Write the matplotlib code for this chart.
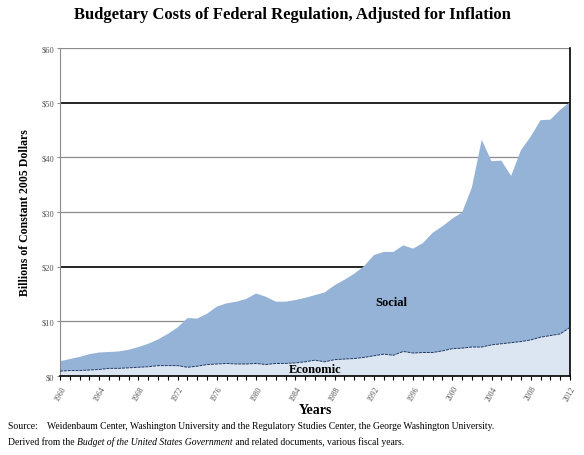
import numpy as np
import matplotlib.pyplot as plt
from matplotlib.ticker import MultipleLocator

plt.rcParams['font.family'] = ['Liberation Serif', 'DejaVu Serif']

years = list(range(1960, 2013))
economic = [0.9, 1.0, 1.0, 1.1, 1.2, 1.4, 1.4, 1.5, 1.6, 1.7,
            1.9, 1.9, 1.9, 1.6, 1.8, 2.1, 2.2, 2.3, 2.2, 2.2,
            2.3, 2.1, 2.3, 2.3, 2.4, 2.6, 2.9, 2.6, 3.0, 3.1,
            3.2, 3.4, 3.7, 4.0, 3.8, 4.5, 4.2, 4.3, 4.3, 4.6,
            5.0, 5.1, 5.3, 5.3, 5.7, 5.9, 6.1, 6.3, 6.6, 7.1,
            7.4, 7.7, 8.9]
total = [2.7, 3.1, 3.5, 4.0, 4.3, 4.4, 4.5, 4.8, 5.3, 5.9,
         6.7, 7.7, 8.9, 10.6, 10.5, 11.4, 12.7, 13.3, 13.6, 14.1,
         15.1, 14.5, 13.6, 13.6, 13.9, 14.3, 14.8, 15.3, 16.6, 17.6,
         18.7, 20.1, 22.1, 22.7, 22.7, 23.9, 23.3, 24.3, 26.2, 27.4,
         28.8, 29.9, 34.5, 43.2, 39.3, 39.4, 36.6, 41.3, 43.8, 46.8,
         46.9, 48.7, 50.1]
social = [t - e for t, e in zip(total, economic)]

ytick_vals = [0, 10, 20, 30, 40, 50, 60]
ytick_labels = ['$0', '$10', '$20', '$30', '$40', '$50', '$60']
xtick_years = list(range(1960, 2013, 4))

fig = plt.figure(figsize=(5.84, 4.56), dpi=100)
ax = fig.add_axes([0.1027, 0.1732, 0.8733, 0.7193])

# gridlines (two of them are drawn darker in the original)
for v in ytick_vals[1:]:
    dark = v in (20, 50)
    ax.axhline(v, color='black' if dark else '#8c8c8c', lw=1.2 if dark else 0.9, zorder=0)

ax.stackplot(years, economic, social, colors=['#dce6f2', '#95b3d7'], zorder=2)
ax.plot(years, economic, color='#1f3864', lw=0.7, ls=(0, (3, 1)), zorder=3)

ax.set_xlim(1960, 2012)
ax.set_ylim(0, 60)
ax.set_yticks(ytick_vals)
ax.set_yticklabels([s.replace('$', r'\$') for s in ytick_labels], fontsize=6, color='#555555')
ax.set_xticks(xtick_years)
ax.set_xticklabels([str(y) for y in xtick_years], rotation=60, fontsize=5.5,
                   color='#555555', ha='center', va='top')
ax.xaxis.set_minor_locator(MultipleLocator(1))
ax.tick_params(axis='x', which='both', direction='out', length=3, width=0.8, color='black', pad=3)
ax.tick_params(axis='y', length=2, color='#8c8c8c', pad=2)

ax.spines['top'].set_visible(False)
ax.spines['left'].set_color('#8c8c8c')
ax.spines['right'].set_color('black')
ax.spines['right'].set_linewidth(1.2)
ax.spines['bottom'].set_color('black')
ax.spines['bottom'].set_linewidth(1.2)

ax.text(1993.8, 13.6, 'Social', fontsize=9, fontweight='bold', ha='center', va='center', zorder=4)
ax.text(1986.0, 1.3, 'Economic', fontsize=9, fontweight='bold', ha='center', va='center', zorder=4)

ax.set_ylabel('Billions of Constant 2005 Dollars', fontsize=8.5, fontweight='bold', labelpad=8)
ax.set_xlabel('Years', fontsize=10, fontweight='bold', labelpad=1)

fig.text(0.5, 0.968, 'Budgetary Costs of Federal Regulation, Adjusted for Inflation',
         ha='center', va='center', fontsize=12, fontweight='bold')

src_size = 6.9
fig.text(0.014, 0.064, 'Source:    Weidenbaum Center, Washington University and the Regulatory Studies Center, '
         'the George Washington University.', fontsize=src_size, va='center')

# second line: plain / italic / plain pieces placed one after another
renderer = fig.canvas.get_renderer()
x = 0.014
for piece, style in [('Derived from the ', 'normal'),
                     ('Budget of the United States Government', 'italic'),
                     (' and related documents, various fiscal years.', 'normal')]:
    t = fig.text(x, 0.030, piece, fontsize=src_size, style=style, va='center')
    bb = t.get_window_extent(renderer)
    x = fig.transFigure.inverted().transform((bb.x1, bb.y0))[0]

fig.savefig('out.png', dpi=100)
